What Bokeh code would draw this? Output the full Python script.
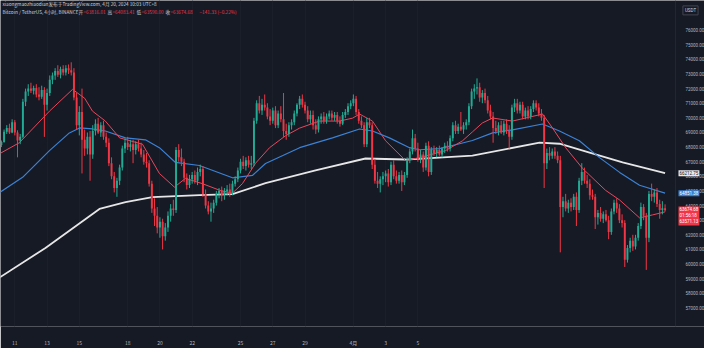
from bokeh.plotting import figure
from bokeh.models import ColumnDataSource, Range1d, FixedTicker, Label, NumeralTickFormatter, Span
from bokeh.embed import file_html
from bokeh.resources import INLINE

# ---------------- data (BTCUSDT 4h, Binance) ----------------
first_open = 68300
highs = [68500, 68450, 69200, 69500, 69600, 69900, 69850, 69150, 68900, 71300, 72000, 72300,
         72400, 72200, 72300, 72100, 72200, 72100, 72000, 72900, 73100, 73400, 73600, 73500,
         73600, 73600, 73650, 73800, 73400, 71700, 70800, 72000, 69200, 69000, 69100, 69500,
         69900, 70000, 69700, 69800, 69000, 68600, 67300, 66300, 65900, 66800, 68100, 68600,
         68700, 68500, 68500, 68400, 68500, 68300, 67800, 67600, 67100, 65700, 64500, 63900,
         63200, 63100, 62800, 63600, 64100, 64400, 68000, 68200, 67900, 67200, 66200, 66100,
         66300, 66400, 66600, 66800, 66700, 65100, 64300, 64200, 64400, 65000, 65200, 65300,
         65200, 65400, 65500, 65700, 66000, 66600, 67200, 67400, 67300, 67400, 67400, 70000,
         71200, 71500, 71300, 71600, 71000, 70600, 70700, 70800, 70500, 70800, 71700, 69600,
         69700, 69900, 70500, 71000, 71500, 71600, 71100, 70800, 70500, 70500, 69900, 70100,
         70300, 70400, 70300, 70500, 70500, 70400, 70400, 70100, 70400, 70600, 71000, 71200,
         71600, 71500, 70600, 70100, 69700, 70000, 70000, 69700, 67200, 66300, 66000, 66300,
         66400, 66500, 67000, 67100, 66400, 66300, 66400, 66300, 67300, 67900, 69200, 68900,
         68300, 67800, 67700, 68300, 68400, 68000, 68100, 68000, 68100, 68000, 68300, 68400,
         68800, 69700, 69800, 69600, 70400, 69700, 69900, 71000, 72000, 72300, 72700, 72400,
         71900, 72000, 71500, 70900, 70400, 69800, 69700, 69800, 69800, 69900, 69500, 70900,
         71300, 71300, 71100, 71100, 70700, 70800, 70800, 71200, 71200, 71000, 70600, 70200,
         67900, 68000, 67900, 68000, 67700, 67400, 64600, 64800, 64400, 64500, 64800, 64900,
         65900, 66900, 66600, 66100, 65800, 65100, 64800, 63700, 63900, 63600, 63700, 63300,
         63800, 64400, 64500, 64100, 63400, 63000, 61300, 61800, 62000, 62000, 62800, 64200,
         64100, 63500, 65000, 65500, 65100, 65200, 64400, 64300, 64083.41]
lows = [67900, 68000, 68300, 68900, 68900, 68950, 68800, 67300, 68200, 68600, 70800, 71500,
        71700, 71600, 71400, 71200, 71300, 68700, 70500, 71500, 72300, 72600, 72800, 72700,
        72900, 72900, 73000, 72900, 71200, 69200, 68800, 66200, 67400, 67500, 65700, 67200,
        68800, 68900, 68700, 68500, 68000, 66700, 65800, 64900, 64600, 65400, 66400, 67600,
        67800, 67700, 66900, 67500, 67700, 67300, 66800, 66600, 65300, 63500, 62600, 62100,
        61800, 61000, 61600, 62200, 62900, 63300, 63500, 67000, 66700, 65600, 65100, 65200,
        65500, 65500, 65400, 66000, 64600, 63800, 63400, 62900, 63500, 64000, 64500, 64300,
        64400, 64700, 64600, 64700, 65300, 65600, 66200, 66500, 66400, 66600, 66500, 66700,
        69600, 70300, 70200, 70500, 69900, 69500, 69600, 69300, 69300, 69700, 68700, 68500,
        68700, 69200, 69500, 70100, 70600, 70700, 70300, 69700, 69600, 69200, 68900, 69000,
        69600, 69600, 69600, 69900, 69800, 69800, 69600, 69400, 69500, 70000, 70200, 70600,
        70800, 70200, 69600, 69300, 68000, 68000, 69300, 66500, 65500, 65200, 64900, 65400,
        65600, 65300, 65400, 65800, 65500, 65500, 65000, 65400, 65900, 66900, 67500, 67700,
        67000, 66900, 66300, 66400, 66000, 66100, 67400, 67300, 67400, 67300, 67600, 67700,
        67700, 68400, 68900, 68900, 69100, 68900, 69200, 69500, 70600, 71300, 71600, 71100,
        71000, 71000, 70300, 69900, 68300, 68900, 68800, 68900, 68800, 68900, 67900, 68500,
        70400, 70300, 70300, 69900, 69900, 69900, 69900, 70400, 70500, 70100, 69800, 65200,
        66500, 67100, 67200, 67200, 66900, 60800, 63200, 63600, 63500, 63600, 63700, 62600,
        63500, 65400, 65500, 65200, 64400, 64400, 62400, 62700, 62900, 62800, 62900, 61700,
        62000, 63400, 63500, 62800, 62500, 59800, 60100, 60800, 60900, 61000, 61600, 62400,
        63000, 59600, 61500, 64300, 64200, 63900, 63100, 63400, 63590.00]
closes = [68150, 68350, 69050, 69300, 69000, 69700, 69000, 68450, 68700, 71100, 71800, 72000,
          71850, 72050, 71600, 71450, 71900, 70900, 71700, 72600, 72900, 73200, 72950, 73350,
          73100, 73400, 73250, 73100, 71400, 69500, 70400, 68500, 67900, 68700, 67500, 69100,
          69600, 69000, 69500, 68700, 68300, 66900, 66000, 65200, 65700, 66600, 67900, 68300,
          68000, 68200, 67800, 68200, 67900, 67500, 67000, 66900, 65500, 63800, 63300, 62500,
          62900, 61900, 62500, 63300, 63800, 63700, 67800, 67300, 67000, 65900, 65400, 65800,
          66100, 65700, 66300, 66500, 64800, 64000, 63600, 63800, 64200, 64800, 65000, 64700,
          65000, 65100, 64900, 65500, 65800, 66400, 67000, 66700, 67100, 66800, 66900, 69800,
          71000, 70500, 70900, 70700, 70100, 69800, 70500, 69500, 70300, 69900, 69100, 68900,
          69500, 69700, 70300, 70900, 71300, 70900, 70500, 69900, 70200, 69500, 69200, 69900,
          70100, 69800, 70100, 70300, 70000, 70200, 69800, 69600, 70200, 70400, 70800, 71000,
          71300, 70400, 69800, 69500, 68200, 69700, 69500, 66800, 65700, 65500, 65800, 66000,
          66200, 65600, 66800, 66000, 65700, 66100, 65600, 66100, 67100, 67700, 68600, 67900,
          67200, 67500, 66600, 68100, 66300, 67800, 67600, 67800, 67500, 67900, 68100, 67900,
          68600, 69500, 69100, 69400, 69200, 69500, 69700, 70800, 71800, 72000, 72100, 71400,
          71700, 71200, 70500, 70100, 69300, 69100, 69500, 69000, 69600, 69100, 68700, 70700,
          71000, 70500, 70900, 70100, 70500, 70100, 70600, 71000, 70700, 70300, 70000, 66900,
          67600, 67400, 67700, 67400, 67100, 63900, 64300, 63800, 64200, 63900, 64600, 63700,
          65700, 66300, 65700, 65500, 64700, 64600, 63200, 63500, 63100, 63400, 63000, 62200,
          63600, 64200, 63800, 63000, 62800, 60300, 61100, 61600, 61200, 61800, 62600, 63900,
          63300, 61800, 64800, 64600, 64900, 64100, 63700, 63816.01, 63674.68]

# moving averages (candle index, price)
ma_fast_x = [-2.3, 7.7, 18.9, 27.5, 32, 34.9, 39.7, 45, 53.5, 59.8, 65.4, 69.5, 75.8, 82.2, 87,
             90.7, 95.6, 100.8, 106.7, 112, 119.4, 126.8, 131.7, 134.3, 139.1, 144, 151.4, 156.6,
             166.3, 172.6, 176.3, 180, 183.8, 191.2, 202.4, 206.1, 211, 217.3, 225.8, 231.1,
             238.5, 243.3, 248]
ma_fast_y = [67280, 68300, 70460, 71950, 71340, 70460, 69780, 68630, 68200, 66200, 65260, 65860,
             65500, 65050, 64850, 65500, 66900, 67960, 68770, 69300, 69780, 69780, 69980, 70260,
             69780, 68430, 67080, 67280, 67760, 68430, 69040, 69650, 69990, 69780, 70260, 69310,
             67960, 66540, 65050, 64380, 63160, 63360, 63571.13]
ma_mid_x = [-2.3, 8.9, 18.9, 26.3, 30.1, 34.9, 39.7, 47.2, 54.6, 59.8, 65.8, 74.7, 87, 94.5,
            99.3, 112, 124.2, 134.3, 139.1, 145.4, 152.9, 156.6, 164.1, 171.5, 176.3, 183.8,
            191.2, 202.4, 208.7, 216.1, 223.6, 231.1, 238.5, 248]
ma_mid_y = [64580, 65930, 67760, 68970, 69310, 69240, 69100, 68630, 68500, 67960, 66950, 66740,
            65900, 66070, 66880, 67960, 68630, 69240, 69100, 68630, 67960, 67820, 67890, 68230,
            68450, 68970, 69180, 69580, 69100, 68430, 67280, 66270, 65390, 64851.38]
ma_slow_x = [-2.3, 17.4, 37.5, 47.2, 57.2, 74.7, 87, 99.3, 117.9, 136.5, 151.4, 176.3, 201.3,
             208.7, 219.9, 232.2, 248]
ma_slow_y = [58770, 61100, 63770, 64240, 64580, 64720, 64780, 65530, 66410, 67220, 67150, 67420,
             68300, 68230, 67620, 66950, 66212.75]

day_ticks = [6, 18, 30, 48, 60, 72, 90, 102, 114, 132, 144, 156]
day_labels = ["11", "13", "15", "18", "20", "22", "25", "27", "29", "4月", "3", "5"]
price_ticks = [57000, 58000, 59000, 60000, 61000, 62000, 63000, 64000, 65000, 66000,
               67000, 68000, 69000, 70000, 71000, 72000, 73000, 74000, 75000, 76000]

# ---------------- build ----------------
BG = "#161a25"
UP = "#22ab94"
DOWN = "#f23645"
TXT = "#b2b5be"
FS = "4.5px"

n = len(closes)
opens = [first_open] + closes[:-1]
idx = list(range(n))
cols = [UP if c >= o else DOWN for o, c in zip(opens, closes)]
src = ColumnDataSource(dict(
    x=idx, o=opens, h=highs, l=lows, c=closes,
    top=[max(o, c) for o, c in zip(opens, closes)],
    bot=[min(o, c) for o, c in zip(opens, closes)],
    col=cols))

# page-pixel helpers -> data coordinates (frame spans page x 8..712, y 8..338)
def hx(px):
    return -2.307 + px / 2.687

def hy(py):
    return 78567.7 - py * 67.57

SCALE_X = hx(683)   # border between chart pane and price scale

p = figure(width=704, height=348, output_backend="svg", toolbar_location=None,
           x_range=Range1d(hx(8), hx(712)), y_range=Range1d(55729.0, 78027.1),
           y_axis_location="right", min_border_left=0, min_border_right=0,
           min_border_top=0, min_border_bottom=18)
p.background_fill_color = BG
p.border_fill_color = BG
p.outline_line_color = None

p.xgrid.ticker = FixedTicker(ticks=day_ticks)
p.xgrid.grid_line_color = "#1b1f2a"
p.ygrid.grid_line_color = None

p.add_layout(Span(location=SCALE_X, dimension="height", line_color="#222632", line_width=1))

p.line(ma_slow_x, ma_slow_y, line_color="#e6e6e6", line_width=1.8)
p.line(ma_mid_x, ma_mid_y, line_color="#3b82d6", line_width=1.2)
p.line(ma_fast_x, ma_fast_y, line_color="#e9475c", line_width=1.0)

p.segment(x0="x", y0="h", x1="x", y1="l", line_color="col", line_width=1, source=src)
p.vbar(x="x", width=0.72, top="top", bottom="bot", fill_color="col", line_color=None, source=src)

xa = p.xaxis[0]
xa.ticker = FixedTicker(ticks=day_ticks)
xa.major_label_overrides = {t: s for t, s in zip(day_ticks, day_labels)}
xa.axis_line_color = None
xa.major_tick_line_color = None
xa.minor_tick_line_color = None
xa.major_label_text_color = TXT
xa.major_label_text_font = "Noto Sans CJK SC"
xa.major_label_text_font_size = "5px"
xa.major_label_standoff = 6

ya = p.yaxis[0]
ya.fixed_location = SCALE_X
ya.ticker = FixedTicker(ticks=price_ticks)
ya.formatter = NumeralTickFormatter(format="0.00")
ya.axis_line_color = None
ya.major_tick_line_color = None
ya.minor_tick_line_color = None
ya.major_label_text_color = TXT
ya.major_label_text_font = "Roboto"
ya.major_label_text_font_size = FS
ya.major_label_standoff = 4

# header
p.add_layout(Label(x=hx(10), y=hy(12), text="xiaongmaozhiaodian发布于TradingView.com, 4月 20, 2024 10:03 UTC+8",
                   text_font="Noto Sans CJK SC", text_font_size="4.7px", text_color="#d1d4dc",
                   text_baseline="middle"))
p.add_layout(Label(x=hx(10), y=hy(20), text="Bitcoin / TetherUS, 4小时, BINANCE",
                   text_font="Noto Sans CJK SC", text_font_size="4.7px", text_color="#d1d4dc",
                   text_baseline="middle"))
ohlc_keys = ["开", "高", "低", "收"]
ohlc_vals = ["=63816.01", "=64083.41", "=63590.00", "=63674.68"]
key_px = [86, 115, 144, 173]
for k, v, kx in zip(ohlc_keys, ohlc_vals, key_px):
    p.add_layout(Label(x=hx(kx), y=hy(20), text=k, text_font="Noto Sans CJK SC",
                       text_font_size="4.7px", text_color="#d1d4dc", text_baseline="middle"))
    p.add_layout(Label(x=hx(kx + 5), y=hy(20), text=v, text_font="Noto Sans CJK SC",
                       text_font_size="4.7px", text_color=DOWN, text_baseline="middle"))
p.add_layout(Label(x=hx(207), y=hy(20), text="−141.33 (−0.22%)", text_font="Noto Sans CJK SC",
                   text_font_size="4.7px", text_color=DOWN, text_baseline="middle"))

# price scale boxes
p.add_layout(Label(x=hx(698), y=hy(18), text="USDT", text_font="Roboto", text_font_size=FS,
                   text_color="#d1d4dc", text_align="center", text_baseline="middle",
                   border_line_color="#434651", background_fill_color=BG, padding=2))
p.add_layout(Label(x=hx(686), y=66212.75, text="66212.75", text_font="Roboto", text_font_size=FS,
                   text_color="#131722", text_baseline="middle", background_fill_color="#e8e8ec",
                   padding=1))
p.add_layout(Label(x=hx(686), y=64851.38, text="64851.38", text_font="Roboto", text_font_size=FS,
                   text_color="#ffffff", text_baseline="middle", background_fill_color="#3b82d6",
                   padding=1))
p.add_layout(Label(x=hx(686), y=hy(216.5), text="63674.68\n01:56:18\n63571.13", text_font="Roboto",
                   text_font_size=FS, text_color="#ffffff", text_baseline="top",
                   background_fill_color=DOWN, padding=1))

open("out.html", "w").write(file_html(p, INLINE))
